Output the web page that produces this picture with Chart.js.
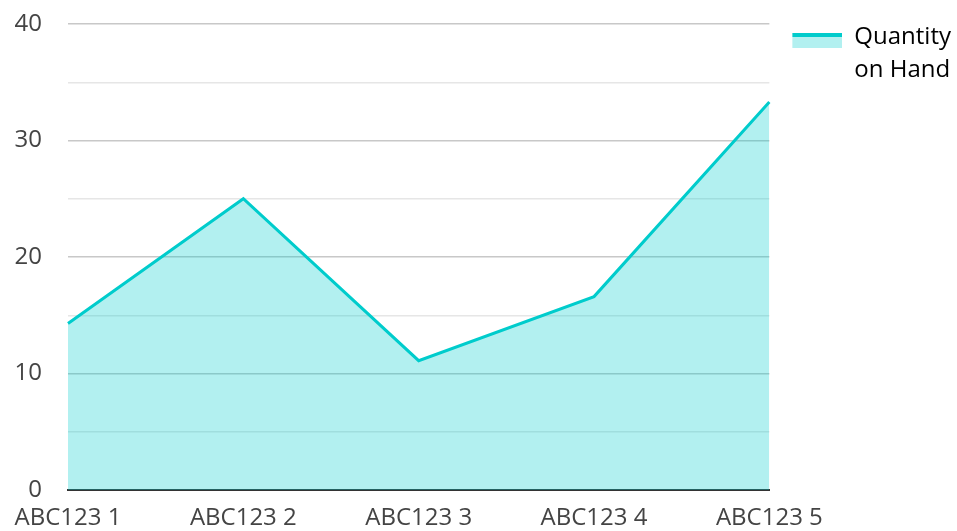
<!DOCTYPE html>
<html>
<head>
<meta charset="utf-8">
<script src="https://cdn.jsdelivr.net/npm/chart.js@4"></script>
<style>
  html, body { margin: 0; padding: 0; background: #fff; }
  #wrap { width: 957px; height: 531px; }
</style>
</head>
<body>
<div id="wrap"><canvas id="chart"></canvas></div>
<script>
const categories = ['ABC123 1', 'ABC123 2', 'ABC123 3', 'ABC123 4', 'ABC123 5'];
const quantityOnHand = [14.3, 25.0, 11.1, 16.6, 33.3];
const seriesLabel = ['Quantity', 'on Hand'];

const lineColor = '#00cccc';
const fillColor = 'rgba(0, 204, 204, 0.3)';

// legend swatch: light box with a thick line on top, left/top margins transparent
const swW = 67, swH = 34;
const swatch = document.createElement('canvas');
swatch.width = swW;
swatch.height = swH;
const sctx = swatch.getContext('2d');
sctx.fillStyle = fillColor;
sctx.fillRect(swW - 50, 16, 50, 12);
sctx.fillStyle = lineColor;
sctx.fillRect(swW - 50, 13, 50, 4);

Chart.defaults.font.family = "'Open Sans', sans-serif";
Chart.defaults.font.size = 24;
Chart.defaults.color = '#444';

const ctx = document.getElementById('chart').getContext('2d');
new Chart(ctx, {
    type: 'line',
    data: {
        labels: categories,
        datasets: [{
            label: 'Quantity on Hand',
            data: quantityOnHand,
            borderColor: lineColor,
            backgroundColor: fillColor,
            borderWidth: 3,
            pointRadius: 0,
            fill: 'origin',
            tension: 0
        }]
    },
    options: {
        responsive: true,
        maintainAspectRatio: false,
        animation: false,
        layout: {
            padding: { top: 19, left: 15, right: -4, bottom: 0 }
        },
        plugins: {
            tooltip: { enabled: false },
            legend: {
                position: 'right',
                align: 'start',
                labels: {
                    usePointStyle: true,
                    pointStyleWidth: swW,
                    padding: 6,
                    color: '#333',
                    font: { size: 24, lineHeight: 1.375 },
                    generateLabels: function(chart) {
                        return [{
                            text: seriesLabel,
                            pointStyle: swatch,
                            fillStyle: fillColor,
                            strokeStyle: lineColor,
                            lineWidth: 0,
                            hidden: false,
                            datasetIndex: 0
                        }];
                    }
                }
            }
        },
        scales: {
            x: {
                offset: false,
                afterFit: function(scale) { scale.height = 41; },
                grid: { display: false, drawTicks: false },
                border: { display: true, color: '#333', width: 2 },
                ticks: { padding: 14, maxRotation: 0, autoSkip: false }
            },
            y: {
                min: 0,
                max: 40,
                afterFit: function(scale) {
                    scale.width = 53;
                    scale.paddingTop = 24;
                    scale.paddingBottom = 0;
                },
                border: { display: false },
                grid: {
                    drawTicks: false,
                    lineWidth: 1.5,
                    color: function(c) {
                        if (!c.tick) return '#ddd';
                        return c.tick.value % 10 === 0 ? '#c8c8c8' : '#e6e6e6';
                    }
                },
                ticks: {
                    stepSize: 5,
                    padding: 26,
                    callback: function(value) {
                        return value % 10 === 0 ? value : '';
                    }
                }
            }
        }
    }
});
</script>
</body>
</html>
